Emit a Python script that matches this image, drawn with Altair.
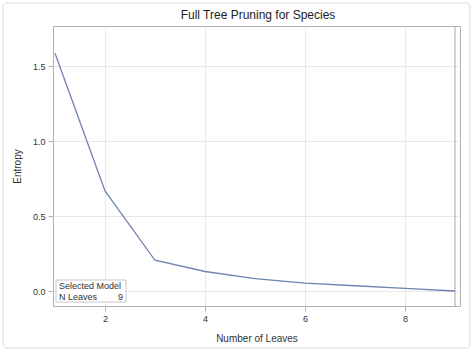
import altair as alt
import pandas as pd

leaves = [1, 2, 3, 4, 5, 6, 7, 8, 9]
entropy = [1.585, 0.667, 0.205, 0.130, 0.082, 0.053, 0.035, 0.018, 0.0]
x_ticks = [2, 4, 6, 8]
y_ticks = [0.0, 0.5, 1.0, 1.5]
selected_leaves = 9
title_text = "Full Tree Pruning for Species"

df = pd.DataFrame({"leaves": leaves, "entropy": entropy})

FONT = "Liberation Sans"
W, H = 407, 280

xs = alt.Scale(domain=[0.96, 9.1], nice=False, zero=False)
ys = alt.Scale(domain=[-0.1, 1.767], nice=False, zero=False)

outer = alt.Chart(pd.DataFrame({"a": [0]})).mark_rect(
    fill=None, filled=False, stroke="#d9d9d9", strokeWidth=1, cornerRadius=4, clip=False
).encode(x=alt.value(-50), x2=alt.value(417), y=alt.value(-23), y2=alt.value(322))

title = alt.Chart(pd.DataFrame({"t": [title_text]})).mark_text(
    align="center", baseline="middle", font=FONT, fontSize=12, color="#222222"
).encode(x=alt.value(205), y=alt.value(-11), text="t:N")

line = alt.Chart(df).mark_line(color="#7082b0", strokeWidth=1.3).encode(
    x=alt.X("leaves:Q", scale=xs, title="Number of Leaves",
            axis=alt.Axis(values=x_ticks, format="d", grid=True)),
    y=alt.Y("entropy:Q", scale=ys, title="Entropy",
            axis=alt.Axis(values=y_ticks, format=".1f", grid=True)),
)

rule = alt.Chart(pd.DataFrame({"leaves": [selected_leaves]})).mark_rule(
    color="#a8a8a8", strokeWidth=1
).encode(x=alt.X("leaves:Q", scale=xs))

box = alt.Chart(pd.DataFrame({"a": [0]})).mark_rect(
    fill="white", stroke="#c8c8c8", strokeWidth=1
).encode(x=alt.value(3), x2=alt.value(73), y=alt.value(254), y2=alt.value(276))

t1 = alt.Chart(pd.DataFrame({"t": ["Selected Model"]})).mark_text(
    align="left", baseline="middle", font=FONT, fontSize=9, color="#333333"
).encode(x=alt.value(6), y=alt.value(259.5), text="t:N")
t2 = alt.Chart(pd.DataFrame({"t": ["N Leaves"]})).mark_text(
    align="left", baseline="middle", font=FONT, fontSize=9, color="#333333"
).encode(x=alt.value(6), y=alt.value(270.5), text="t:N")
t3 = alt.Chart(pd.DataFrame({"t": [str(selected_leaves)]})).mark_text(
    align="right", baseline="middle", font=FONT, fontSize=9, color="#333333"
).encode(x=alt.value(70), y=alt.value(270.5), text="t:N")

chart = alt.layer(outer, title, rule, line, box, t1, t2, t3).properties(
    width=W, height=H,
    autosize=alt.AutoSizeParams(type="none"),
    padding={"left": 53, "top": 26, "right": 14, "bottom": 49},
).configure_view(
    stroke="#b0b0b0", strokeWidth=1
).configure_axis(
    labelFont=FONT, titleFont=FONT, labelFontSize=9, titleFontSize=10,
    titleFontWeight="normal", labelColor="#333333", titleColor="#333333",
    gridColor="#e8e8e8", domain=False, tickColor="#b0b0b0", tickSize=5,
).configure_axisX(titlePadding=10, labelPadding=3).configure_axisY(titlePadding=10, labelPadding=3)

chart.save("out.html", embed_options={"renderer": "svg", "actions": False})
